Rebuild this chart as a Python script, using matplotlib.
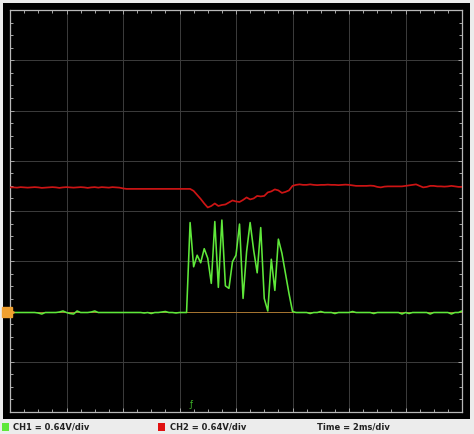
import numpy as np
import matplotlib
matplotlib.use("Agg")
import matplotlib.pyplot as plt
from matplotlib.patches import Rectangle
from matplotlib.transforms import offset_copy

# ---- data (screen divisions; time in ms, 0.125 ms per sample) ----
SAMPLE_MS = 0.125
GROUND_CH1 = -2.0  # ground marker level (div)

ch1 = [
    -2.02, -2.02, -2.02, -2.02, -2.02, -2.02, -2.02, -2.02, -2.03, -2.05,
    -2.02, -2.02, -2.02, -2.02, -2.01, -1.99, -2.02, -2.04, -2.05, -1.99,
    -2.02, -2.02, -2.02, -2.01, -1.99, -2.02, -2.02, -2.02, -2.02, -2.02,
    -2.02, -2.02, -2.02, -2.02, -2.02, -2.02, -2.02, -2.02, -2.03, -2.02,
    -2.04, -2.02, -2.02, -2.01, -2.00, -2.02, -2.02, -2.03, -2.02, -2.02,
    -2.02, -0.23, -1.11, -0.88, -1.03, -0.75, -0.94, -1.44, -0.21, -1.52,
    -0.18, -1.49, -1.54, -1.01, -0.88, -0.26, -1.74, -0.81, -0.23, -0.78,
    -1.23, -0.33, -1.74, -1.99, -0.96, -1.58, -0.56, -0.84, -1.24, -1.64,
    -2.00, -2.02, -2.02, -2.02, -2.02, -2.04, -2.02, -2.02, -2.00, -2.02,
    -2.02, -2.02, -2.04, -2.02, -2.02, -2.02, -2.02, -2.00, -2.02, -2.02,
    -2.02, -2.02, -2.02, -2.04, -2.02, -2.02, -2.02, -2.02, -2.02, -2.02,
    -2.02, -2.05, -2.02, -2.04, -2.02, -2.02, -2.02, -2.02, -2.02, -2.05,
    -2.02, -2.02, -2.02, -2.02, -2.02, -2.05, -2.02, -2.02, -1.99,
]

ch2 = [
    0.47, 0.47, 0.465, 0.475, 0.47, 0.465, 0.47, 0.475, 0.47, 0.46,
    0.465, 0.47, 0.475, 0.47, 0.46, 0.47, 0.475, 0.47, 0.465, 0.47,
    0.475, 0.47, 0.46, 0.47, 0.475, 0.465, 0.475, 0.47, 0.465, 0.475,
    0.47, 0.465, 0.45, 0.44, 0.44, 0.44, 0.44, 0.44, 0.44, 0.44,
    0.44, 0.44, 0.44, 0.44, 0.44, 0.44, 0.44, 0.44, 0.44, 0.44,
    0.44, 0.44, 0.40, 0.32, 0.24, 0.15, 0.07, 0.10, 0.15, 0.10,
    0.12, 0.13, 0.17, 0.21, 0.19, 0.18, 0.22, 0.27, 0.23, 0.25,
    0.30, 0.29, 0.30, 0.37, 0.39, 0.43, 0.41, 0.36, 0.38, 0.41,
    0.50, 0.52, 0.53, 0.52, 0.52, 0.53, 0.52, 0.515, 0.52, 0.52,
    0.525, 0.52, 0.52, 0.515, 0.52, 0.525, 0.52, 0.51, 0.50, 0.50,
    0.50, 0.50, 0.505, 0.50, 0.48, 0.47, 0.485, 0.49, 0.49, 0.49,
    0.49, 0.49, 0.50, 0.51, 0.52, 0.53, 0.50, 0.47, 0.48, 0.50,
    0.50, 0.49, 0.49, 0.485, 0.49, 0.50, 0.49, 0.48, 0.48,
]

legend_labels = ["CH1 = 0.64V/div", "CH2 = 0.64V/div", "Time = 2ms/div"]
legend_colors = ["#5fe83a", "#e01010", None]

N_DIV_X, N_DIV_Y = 8, 8
MS_PER_DIV = 2

# ---- figure ----
W, H = 474, 434
fig = plt.figure(figsize=(W / 100, H / 100), dpi=100, facecolor="#ececec")

# black screen background
fig.patches.append(Rectangle((3 / W, 1 - 419 / H), 467 / W, 416 / H,
                             transform=fig.transFigure, facecolor="black",
                             edgecolor="none", zorder=-10))

ax = fig.add_axes([10 / W, 1 - 412 / H, 452 / W, 402 / H])
ax.set_zorder(1)
ax.set_facecolor("black")

t = np.arange(len(ch1)) * SAMPLE_MS
ax.set_xlim(0, N_DIV_X * MS_PER_DIV)
ax.set_ylim(-N_DIV_Y / 2, N_DIV_Y / 2)

# graticule
ax.set_xticks(np.arange(0, N_DIV_X * MS_PER_DIV + 0.01, MS_PER_DIV))
ax.set_yticks(np.arange(-N_DIV_Y / 2, N_DIV_Y / 2 + 0.01, 1))
ax.set_xticks(np.arange(0, N_DIV_X * MS_PER_DIV + 0.01, MS_PER_DIV / 4), minor=True)
ax.set_yticks(np.arange(-N_DIV_Y / 2, N_DIV_Y / 2 + 0.01, 0.25), minor=True)
ax.grid(True, which="major", color="#3c3c3c", linewidth=0.7)
ax.tick_params(which="both", direction="in", top=True, right=True,
               labelbottom=False, labelleft=False, color="#a8a8a8", width=0.7)
ax.tick_params(which="major", length=3)
ax.tick_params(which="minor", length=2.2)
for s in ax.spines.values():
    s.set_color("#b8b8b8")
    s.set_linewidth(0.9)

# ground reference line for CH1
ax.axhline(GROUND_CH1, color="#a87530", linewidth=0.7, zorder=2)

ax.plot(t, ch2, color="#cc1414", linewidth=1.25, zorder=3)
ax.plot(t, ch1, color="#5fe83a", linewidth=1.15, zorder=4)

# ground marker on the left edge
tr = offset_copy(ax.transData, fig=fig, x=-3.5, y=0, units="dots")
ax.plot([0], [GROUND_CH1], marker="s", markersize=6.5, color="#f0a030",
        clip_on=False, transform=tr, zorder=5)
ax.plot([0], [GROUND_CH1], marker=">", markersize=5, color="#f0a030",
        clip_on=False, transform=offset_copy(ax.transData, fig=fig, x=1, y=0, units="dots"),
        zorder=5)

# trigger marker near bottom
ax.text(6.42, -3.85, "ƒ", color="#3fb82a", fontsize=6, ha="center", va="center",
        zorder=5)

# bottom legend
xs = [2, 158, None]
txs = [13, 170, 317]
for lab, col, x0, tx in zip(legend_labels, legend_colors, xs, txs):
    if col is not None:
        fig.patches.append(Rectangle((x0 / W, 1 - 431 / H), 7 / W, 8 / H,
                                     transform=fig.transFigure, facecolor=col,
                                     edgecolor="none"))
    fig.text(tx / W, 1 - 427.5 / H, lab, fontsize=6, fontweight="bold",
             color="#222222", ha="left", va="center")

fig.savefig("out.png", dpi=100, facecolor=fig.get_facecolor())
